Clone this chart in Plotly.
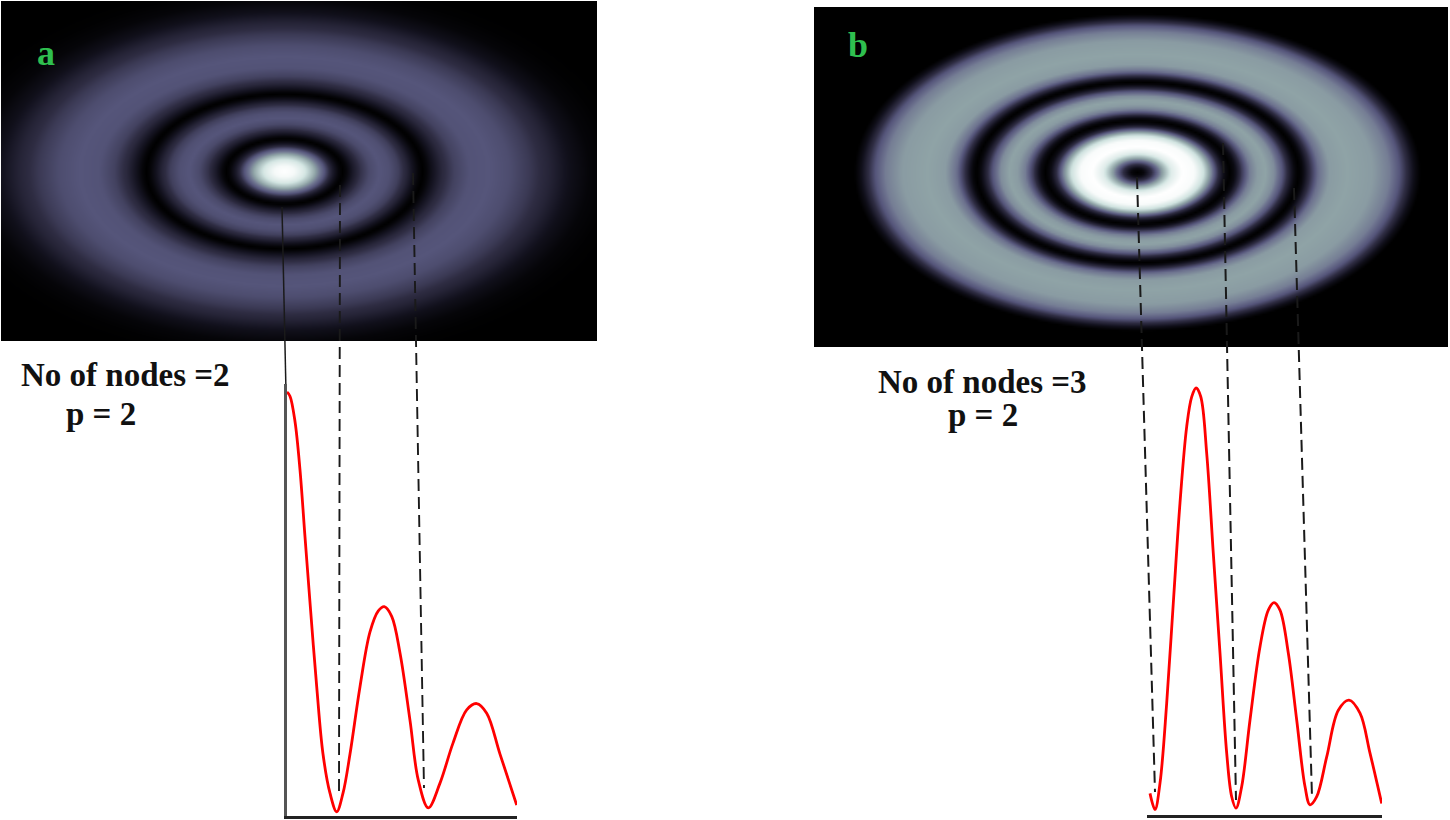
import numpy as np
import plotly.graph_objects as go

W, H = 1450, 820

# red radial profiles (r in px from the left axis, intensity 0..1)
a_r = [0, 3, 8, 13, 18, 23, 29.7, 36, 43, 49.7, 56, 63, 73, 83, 91.3, 97.3, 104.7, 113, 123,
       131.3, 141.3, 153, 166, 179.7, 189.7, 199.7, 213, 229.7]
a_I = [1.0, 0.99, 0.93, 0.815, 0.656, 0.50, 0.30, 0.14, 0.047, 0.003, 0.047, 0.14, 0.30, 0.43,
       0.48, 0.49, 0.467, 0.38, 0.22, 0.078, 0.012, 0.071, 0.166, 0.245, 0.26, 0.237, 0.14, 0.019]

b_r = [3, 8, 13, 19.7, 26.3, 33, 39.7, 44.7, 49, 53.7, 59.7, 66.3, 73, 79.7, 84.7, 89, 94.7, 103,
       113, 121.3, 127, 133, 141.3, 149.7, 158, 163, 169.7, 179.7, 191.3, 202, 213, 223, 234.7]
b_I = [0.044, 0.006, 0.068, 0.257, 0.493, 0.729, 0.909, 0.979, 1.0, 0.98, 0.846, 0.61, 0.375,
       0.139, 0.036, 0.009, 0.06, 0.217, 0.39, 0.476, 0.494, 0.476, 0.375, 0.217, 0.06, 0.017,
       0.036, 0.13, 0.24, 0.264, 0.233, 0.139, 0.02]

# brightness of the ring pictures against horizontal radius (px)
img_a_r = [0, 10, 20, 30, 40, 48, 54, 58, 62, 68, 76, 85, 95, 105, 114, 122, 129, 134, 138, 142,
           148, 158, 170, 185, 205, 225, 245, 265, 285, 305, 325, 345]
img_a_lvl = [1.0, 0.97, 0.88, 0.7, 0.45, 0.2, 0.05, 0.0, 0.05, 0.18, 0.32, 0.41, 0.45, 0.43, 0.37,
             0.26, 0.13, 0.04, 0.0, 0.04, 0.14, 0.28, 0.38, 0.44, 0.45, 0.42, 0.35, 0.25, 0.12,
             0.04, 0.01, 0.0]
img_b_r = [0, 6, 14, 24, 34, 45, 57, 66, 74, 81, 87, 92, 97, 104, 112, 120, 128, 137, 145, 152,
           157, 161, 165, 172, 181, 192, 210, 235, 252, 262, 270, 277, 283]
img_b_lvl = [0.0, 0.05, 0.3, 0.65, 0.9, 1.0, 0.98, 0.85, 0.6, 0.3, 0.08, 0.0, 0.08, 0.35, 0.58,
             0.66, 0.68, 0.62, 0.45, 0.22, 0.06, 0.0, 0.06, 0.3, 0.55, 0.66, 0.68, 0.66, 0.58,
             0.45, 0.28, 0.1, 0.0]

# node guide lines (picture px): top point in the ring picture, bottom point at the profile
a_top_x = [282, 340, 413]
a_top_y = [207, 185, 173]
a_bot_x = [286, 339, 424]
a_bot_y = [392, 794, 788]
b_top_x = [1137, 1223, 1294]
b_top_y = [177, 143, 188]
b_bot_x = [1155, 1236, 1312]
b_bot_y = [792, 800, 797]

ring_scale = [[0.0, "#000000"], [0.15, "#141320"], [0.3, "#2e2c42"], [0.45, "#55557a"],
              [0.56, "#6f7590"], [0.68, "#8fa3a6"], [0.85, "#cfe2df"], [1.0, "#ffffff"]]


def ring_image(x0, x1, y0, y1, cx, cy, rr, lvl):
    xs = np.arange(x0, x1 + 1, 2.0)
    ys = np.arange(y0, y1 + 1, 2.0)
    X, Y = np.meshgrid(xs, ys)
    rho = np.hypot(X - cx, (Y - cy) / 0.56)
    return xs, ys, np.round(np.interp(rho, rr, lvl), 3)


fig = go.Figure()

for args in [(2, 597, 2, 340, 284, 171, img_a_r, img_a_lvl),
             (815, 1448, 8, 347, 1137, 172, img_b_r, img_b_lvl)]:
    xs, ys, z = ring_image(*args)
    fig.add_trace(go.Heatmap(x=xs, y=ys, z=z, colorscale=ring_scale, zmin=0, zmax=1,
                             zsmooth="best", showscale=False, hoverinfo="skip",
                             xaxis="x", yaxis="y"))

# guide lines from rings down to the profile minima
for i in range(3):
    fig.add_trace(go.Scatter(x=[a_top_x[i], a_bot_x[i]], y=[a_top_y[i], a_bot_y[i]], mode="lines",
                             line=dict(color="#1a1a1a", width=1.5 if i == 0 else 1.9,
                                       dash="solid" if i == 0 else "12px,6px"),
                             hoverinfo="skip", xaxis="x", yaxis="y"))
    fig.add_trace(go.Scatter(x=[b_top_x[i], b_bot_x[i]], y=[b_top_y[i], b_bot_y[i]], mode="lines",
                             line=dict(color="#1a1a1a", width=2, dash="12px,6px"),
                             hoverinfo="skip", xaxis="x", yaxis="y"))

fig.add_trace(go.Scatter(x=a_r, y=a_I, mode="lines", line=dict(color="#ff0000", width=2.8, shape="spline"),
                         hoverinfo="skip", xaxis="x2", yaxis="y2"))
fig.add_trace(go.Scatter(x=b_r, y=b_I, mode="lines", line=dict(color="#ff0000", width=2.8, shape="spline"),
                         hoverinfo="skip", xaxis="x3", yaxis="y3"))


def prof_domain(x0, x1, base, top, lo, hi):
    s = base - top
    return [x0 / W, x1 / W], [1 - (base - lo * s) / H, 1 - (base - hi * s) / H]


ax_a, ay_a = prof_domain(287, 517, 813, 392, -0.006, 1.02)
ax_b, ay_b = prof_domain(1147, 1382, 812, 388, -0.006, 1.02)

noax = dict(showgrid=False, zeroline=False, showticklabels=False, ticks="")
fig.update_layout(
    width=W, height=H, showlegend=False,
    margin=dict(l=0, r=0, t=0, b=0),
    paper_bgcolor="white", plot_bgcolor="rgba(0,0,0,0)",
    xaxis=dict(domain=[0, 1], range=[0, W], **noax),
    yaxis=dict(domain=[0, 1], range=[H, 0], **noax),
    xaxis2=dict(domain=ax_a, range=[0, 230], anchor="y2", showline=True, linecolor="#222", linewidth=3, **noax),
    yaxis2=dict(domain=ay_a, range=[-0.006, 1.02], anchor="x2", showline=True, linecolor="#555", linewidth=3, **noax),
    xaxis3=dict(domain=ax_b, range=[0, 235], anchor="y3", showline=True, linecolor="#222", linewidth=3, **noax),
    yaxis3=dict(domain=ay_b, range=[-0.006, 1.02], anchor="x3", **noax),
)

serif = "Liberation Serif, Times New Roman, serif"
labels = [("<b>No of nodes =2</b>", 125, 375, 33, "#111"), ("<b>p = 2</b>", 101, 414, 33, "#111"),
          ("<b>No of nodes =3</b>", 982, 382, 33, "#111"), ("<b>p = 2</b>", 983, 415, 33, "#111"),
          ("<b>a</b>", 46, 53, 36, "#2fbf4f"), ("<b>b</b>", 858, 45, 36, "#2fbf4f")]
for txt, x, y, size, col in labels:
    fig.add_annotation(text=txt, x=x, y=y, xref="x", yref="y", showarrow=False,
                       xanchor="center", yanchor="middle", font=dict(family=serif, size=size, color=col))

# page body has a default 8px margin; drop it so the figure fills the window
fig.write_html("out.html", config={"displayModeBar": False},
               post_script="document.body.style.margin='0px';")
